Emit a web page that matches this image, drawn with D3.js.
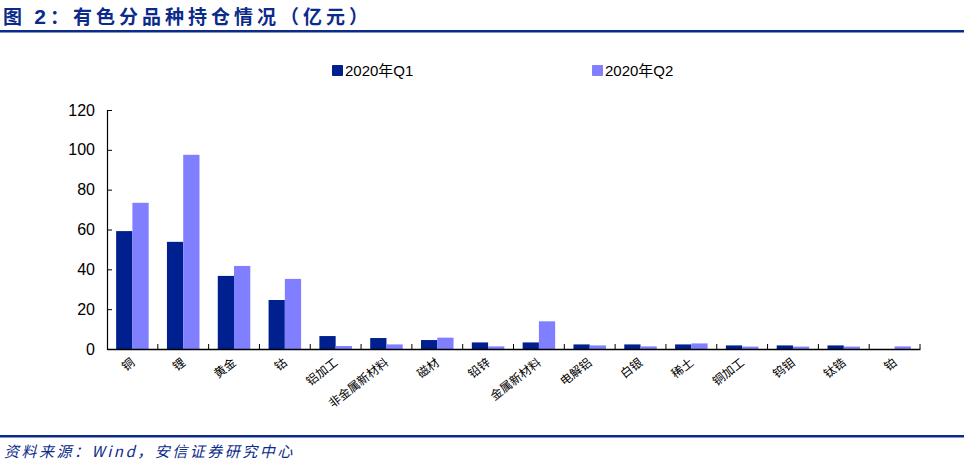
<!DOCTYPE html>
<html lang="zh">
<head>
<meta charset="UTF-8">
<title>有色分品种持仓情况</title>
<script src="https://d3js.org/d3.v7.min.js"></script>
<style>
  body { margin: 0; background: #fff; }
  svg { display: block; font-family: Arial, "Liberation Sans", "Noto Sans CJK SC", sans-serif; }
</style>
</head>
<body>
<svg width="964" height="466"></svg>
<script>
// chart data
const categories = ["铜", "锂", "黄金", "钴", "铝加工", "非金属新材料", "磁材", "铅锌", "金属新材料", "电解铝", "白银", "稀土", "铜加工", "钨钼", "钛锆", "铂"];
const q1 = [59.2, 53.8, 36.7, 24.6, 6.5, 5.5, 4.5, 3.3, 3.3, 2.3, 2.3, 2.3, 1.8, 1.8, 1.8, 0];
const q2 = [73.4, 97.5, 41.7, 35.2, 1.5, 2.3, 5.7, 1.3, 13.9, 1.8, 1.3, 2.8, 1.2, 1.2, 1.2, 1.3];
const seriesNames = ["2020年Q1", "2020年Q2"];
const yTicks = [0, 20, 40, 60, 80, 100, 120];

const colors = ["#00208F", "#7F7FFF"];
const blue = "#0B2A8A";

const svg = d3.select("svg");
const W = 964;

// title + rules
const title = svg.append("text")
  .attr("x", 3).attr("y", 24)
  .attr("fill", blue)
  .attr("font-size", 19).attr("font-weight", "bold")
  .attr("letter-spacing", 4)
  .attr("font-family", "'Noto Sans CJK SC', sans-serif");
title.append("tspan").text("图 ");
title.append("tspan").attr("font-family", "Arial, 'Liberation Sans', sans-serif").attr("font-size", 21).text("2");
title.append("tspan").text("：有色分品种持仓情况（亿元）");
svg.append("rect").attr("x", 0).attr("y", 30).attr("width", W).attr("height", 2.5).attr("fill", blue);
svg.append("rect").attr("x", 0).attr("y", 435).attr("width", W).attr("height", 2.5).attr("fill", blue);
svg.append("text")
  .attr("x", 4).attr("y", 457)
  .attr("fill", blue)
  .attr("font-size", 15).attr("font-style", "italic")
  .attr("letter-spacing", 2.5)
  .attr("font-family", "'Noto Sans CJK SC', sans-serif")
  .text("资料来源：Wind，安信证券研究中心");

// scales
const x0 = d3.scaleBand().domain(categories).range([107, 920]);
const x1 = d3.scaleBand().domain(seriesNames).range([0, x0.bandwidth()]).paddingOuter(0.5625);
const y = d3.scaleLinear().domain([0, 120]).range([349, 110]);

// bars
const groups = svg.append("g").selectAll("g")
  .data(categories)
  .join("g")
  .attr("transform", d => `translate(${x0(d)},0)`);

groups.selectAll("rect")
  .data((d, i) => [q1[i], q2[i]].map((v, j) => ({ v, s: seriesNames[j], j })))
  .join("rect")
  .attr("x", d => x1(d.s))
  .attr("y", d => y(d.v))
  .attr("width", x1.bandwidth())
  .attr("height", d => y(0) - y(d.v))
  .attr("fill", d => colors[d.j]);

// y axis
const yAxis = svg.append("g")
  .attr("transform", "translate(107,0)")
  .call(d3.axisLeft(y).tickValues(yTicks).tickSize(-5).tickPadding(12));
yAxis.select(".domain").attr("stroke", "#000").attr("stroke-width", 1.2);
yAxis.selectAll("text").attr("font-size", 16).attr("fill", "#000").attr("font-family", "Arial, 'Liberation Sans', sans-serif");

// x axis
const xAxis = svg.append("g")
  .attr("transform", "translate(0,349)")
  .call(d3.axisBottom(x0).tickSize(0).tickFormat(""));
xAxis.select(".domain").attr("stroke", "#000").attr("stroke-width", 1.5);

// category boundary ticks
svg.append("g").selectAll("line")
  .data(categories)
  .join("line")
  .attr("x1", d => x0(d) + x0.bandwidth())
  .attr("x2", d => x0(d) + x0.bandwidth())
  .attr("y1", 349).attr("y2", 344)
  .attr("stroke", "#000");

// x labels
svg.append("g").selectAll("text")
  .data(categories)
  .join("text")
  .attr("transform", d => `translate(${x0(d) + x0.bandwidth() / 2 + 3},${364}) rotate(-38)`)
  .attr("text-anchor", "end")
  .attr("font-size", 12)
  .attr("font-family", "'Noto Sans CJK SC', sans-serif")
  .attr("fill", "#000")
  .text(d => d);

// legend
const legendX = [332, 592];
const legend = svg.append("g").selectAll("g")
  .data(seriesNames)
  .join("g")
  .attr("transform", (d, i) => `translate(${legendX[i]},65)`);
legend.append("rect").attr("width", 11).attr("height", 11).attr("rx", 1).attr("fill", (d, i) => colors[i]);
legend.append("text")
  .attr("x", 13).attr("y", 11)
  .attr("font-size", 15)
  .attr("fill", "#000")
  .text(d => d);
</script>
</body>
</html>
